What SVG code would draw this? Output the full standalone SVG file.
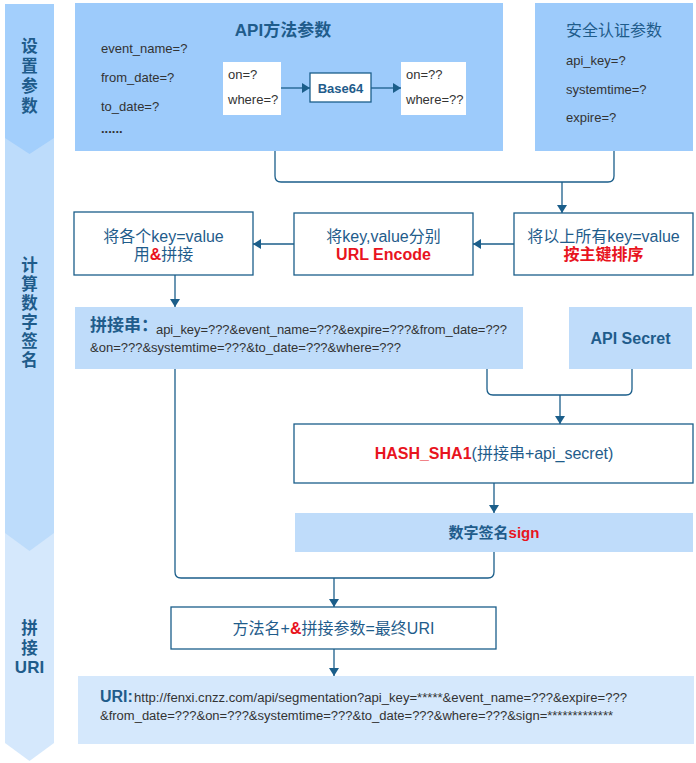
<svg xmlns="http://www.w3.org/2000/svg" width="696" height="763" viewBox="0 0 696 763">
<style>
text{font-family:"Liberation Sans","Noto Sans CJK SC",sans-serif;}
.box{fill:#ffffff;stroke:#1b5e8a;stroke-width:1.3;}
.hdr{fill:#9dcbfb;}
.mid{fill:#bfdcfa;}
.light{fill:#d5e8fc;}
.wht{fill:#ffffff;}
.t{fill:#1f5c8b;font-size:16px;}
.b{font-weight:bold;}
.red{fill:#e8141e;font-weight:bold;}
.s{fill:#333333;font-size:13px;}
.u{fill:#333333;font-size:12px;}
.side{fill:#1f5c8b;font-size:16.5px;font-weight:bold;}
.ln{fill:none;stroke:#1b5e8a;stroke-width:1.3;}
</style>
<defs>
<marker id="ah" markerUnits="userSpaceOnUse" markerWidth="8" markerHeight="10" viewBox="0 0 8 10" refX="8" refY="5" orient="auto">
<path d="M0,0 L8,5 L0,10 z" fill="#1b5e8a"/>
</marker>
</defs>

<!-- left phase bar -->
<g id="phase-bar">
<polygon points="5,533 54,533 54,743 29.5,761 5,743" fill="#d5e8fc"/>
<polygon points="5,138 54,138 54,533 29.5,551 5,533" fill="#bddcfb"/>
<polygon points="5,4 54,4 54,138 29.5,154 5,138" fill="#a3cffc"/>
<text class="side" x="29.5" y="52" text-anchor="middle">设</text>
<text class="side" x="29.5" y="72" text-anchor="middle">置</text>
<text class="side" x="29.5" y="92" text-anchor="middle">参</text>
<text class="side" x="29.5" y="112" text-anchor="middle">数</text>
<text class="side" x="29.5" y="271" text-anchor="middle">计</text>
<text class="side" x="29.5" y="290" text-anchor="middle">算</text>
<text class="side" x="29.5" y="309" text-anchor="middle">数</text>
<text class="side" x="29.5" y="328" text-anchor="middle">字</text>
<text class="side" x="29.5" y="347" text-anchor="middle">签</text>
<text class="side" x="29.5" y="366" text-anchor="middle">名</text>
<text class="side" x="29.5" y="634" text-anchor="middle">拼</text>
<text class="side" x="29.5" y="654" text-anchor="middle">接</text>
<text class="side" x="29.5" y="673" text-anchor="middle" style="font-size:17px">URI</text>
</g>

<g id="api-params">
<rect class="hdr" x="75" y="3" width="428" height="148"/>
<text class="t b" x="283" y="36" text-anchor="middle" style="font-size:17px">API方法参数</text>
<text class="s" x="101" y="53">event_name=?</text>
<text class="s" x="101" y="82">from_date=?</text>
<text class="s" x="101" y="111">to_date=?</text>
<text class="s b" x="101" y="133">......</text>
<rect class="wht" x="223" y="62" width="58" height="53"/>
<text class="s" x="228" y="79">on=?</text>
<text class="s" x="228" y="104">where=?</text>
<rect class="wht" x="401" y="62" width="65" height="53"/>
<text class="s" x="406" y="79">on=??</text>
<text class="s" x="406" y="104">where=??</text>
</g>

<g id="base64">
<rect class="box" x="310" y="73" width="61" height="29"/>
<text class="t b" x="340.5" y="93" text-anchor="middle" style="font-size:13px">Base64</text>
</g>

<g id="security-params">
<rect class="hdr" x="535" y="3" width="158" height="148"/>
<text class="t" x="614" y="36" text-anchor="middle">安全认证参数</text>
<text class="s" x="566" y="65">api_key=?</text>
<text class="s" x="566" y="94">systemtime=?</text>
<text class="s" x="566" y="122">expire=?</text>
</g>

<g id="join-kv">
<rect class="box" x="74" y="212" width="179" height="63"/>
<text class="t" x="163.5" y="242" text-anchor="middle">将各个key=value</text>
<text class="t" x="163.5" y="260" text-anchor="middle">用<tspan class="red">&amp;</tspan>拼接</text>
</g>

<g id="url-encode">
<rect class="box" x="294" y="213" width="179" height="62"/>
<text class="t" x="383.5" y="242" text-anchor="middle">将key,value分别</text>
<text class="t red" x="383.5" y="260" text-anchor="middle">URL Encode</text>
</g>

<g id="sort">
<rect class="box" x="514" y="213" width="179" height="62"/>
<text class="t" x="603.5" y="242" text-anchor="middle">将以上所有key=value</text>
<text class="t red" x="603.5" y="260" text-anchor="middle">按主键排序</text>
</g>

<g id="joined-string">
<rect class="mid" x="75" y="307" width="448" height="62"/>
<text class="t b" x="90" y="331" style="font-size:17px">拼接串：</text>
<text class="s" x="156" y="334" textLength="351" lengthAdjust="spacing">api_key=???&amp;event_name=???&amp;expire=???&amp;from_date=???</text>
<text class="s" x="90" y="352" textLength="311" lengthAdjust="spacing">&amp;on=???&amp;systemtime=???&amp;to_date=???&amp;where=???</text>
</g>

<g id="api-secret">
<rect class="mid" x="569" y="307" width="123" height="62"/>
<text class="t b" x="630.5" y="344" text-anchor="middle">API Secret</text>
</g>

<g id="hash">
<rect class="box" x="294" y="424" width="399" height="59"/>
<text class="t" x="494" y="459" text-anchor="middle"><tspan class="red">HASH_SHA1</tspan>(拼接串+api_secret)</text>
</g>

<g id="sign">
<rect class="mid" x="295" y="513" width="398" height="39"/>
<text class="t b" x="494" y="538" text-anchor="middle" style="font-size:15px">数字签名<tspan class="red">sign</tspan></text>
</g>

<g id="final-uri">
<rect class="box" x="171" y="607" width="325" height="42"/>
<text class="t" x="333.5" y="634" text-anchor="middle">方法名+<tspan class="red">&amp;</tspan>拼接参数=最终URI</text>
</g>

<g id="uri">
<rect class="light" x="78" y="676" width="616" height="68"/>
<text class="t b" x="100" y="702">URI:</text>
<text class="u" x="134" y="702" textLength="493" lengthAdjust="spacingAndGlyphs">http://fenxi.cnzz.com/api/segmentation?api_key=*****&amp;event_name=???&amp;expire=???</text>
<text class="u" x="100" y="720" textLength="513" lengthAdjust="spacingAndGlyphs">&amp;from_date=???&amp;on=???&amp;systemtime=???&amp;to_date=???&amp;where=???&amp;sign=*************</text>
</g>

<g id="connectors">
<path class="ln" d="M281,88 H310" marker-end="url(#ah)"/>
<path class="ln" d="M371,88 H401" marker-end="url(#ah)"/>
<path class="ln" d="M275,151 V176 Q275,182 281,182 H608 Q614,182 614,176 V151"/>
<path class="ln" d="M562,182 V213" marker-end="url(#ah)"/>
<path class="ln" d="M514,244 H473" marker-end="url(#ah)"/>
<path class="ln" d="M294,244 H253" marker-end="url(#ah)"/>
<path class="ln" d="M175,275 V307" marker-end="url(#ah)"/>
<path class="ln" d="M487,369 V389 Q487,395 493,395 H626 Q632,395 632,389 V369"/>
<path class="ln" d="M560,395 V424" marker-end="url(#ah)"/>
<path class="ln" d="M494,483 V513" marker-end="url(#ah)"/>
<path class="ln" d="M175,369 V572 Q175,578 181,578 H488 Q494,578 494,572 V552"/>
<path class="ln" d="M334,578 V607" marker-end="url(#ah)"/>
<path class="ln" d="M334,649 V676" marker-end="url(#ah)"/>
</g>
</svg>
